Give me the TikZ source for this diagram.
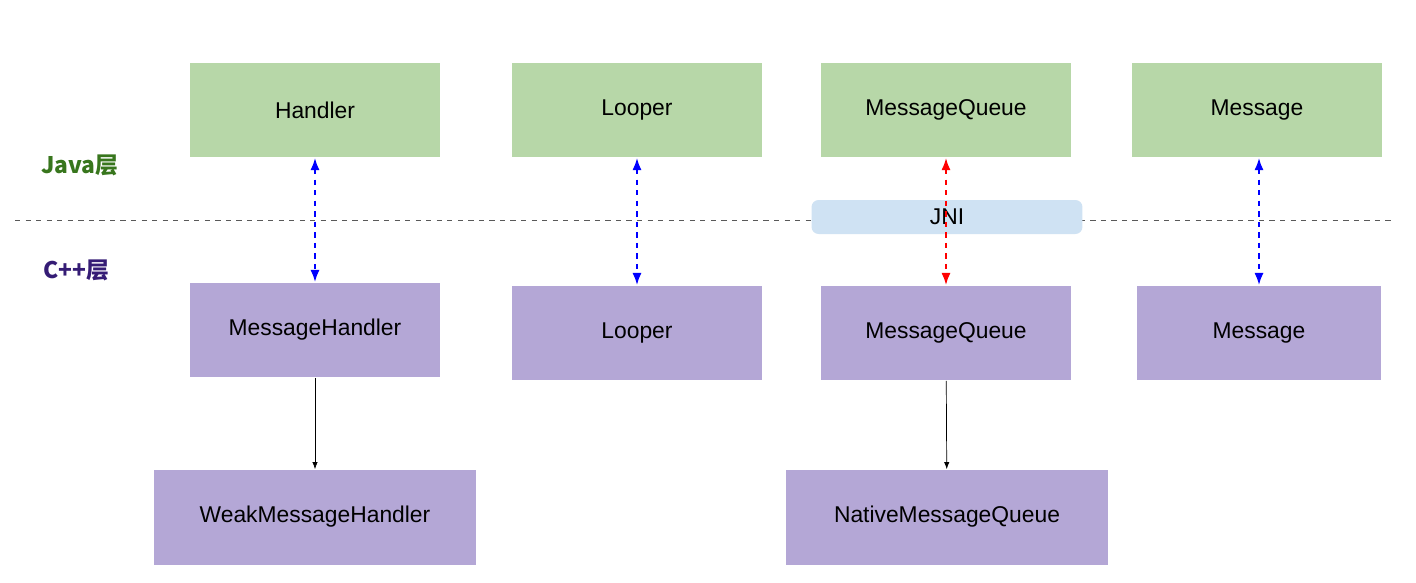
\documentclass[tikz,border=0pt]{standalone}
\usepackage{fontspec}
\setmainfont{Liberation Sans}
\newfontfamily\cjk{Noto Sans CJK SC}
\usetikzlibrary{arrows.meta}
\definecolor{javagreen}{HTML}{B7D7A8}
\definecolor{cppurple}{HTML}{B4A7D6}
\definecolor{jniblue}{HTML}{CFE2F3}
\definecolor{labgreen}{HTML}{38761D}
\definecolor{labpurple}{HTML}{351C75}

\begin{document}
\begin{tikzpicture}[x=0.02cm, y=-0.02cm,
    box/.style = {draw=none, inner sep=0pt, font=\fontsize{13}{15}\selectfont},
    jbox/.style = {box, fill=javagreen, minimum width=5cm, minimum height=1.9cm},
    cbox/.style = {box, fill=cppurple, minimum width=5cm, minimum height=1.9cm},
    wbox/.style = {cbox, minimum width=6.46cm},
    link/.style = {{Latex[length=7pt]}-{Latex[length=7pt]}, dashed, line width=1.2pt, blue},
    owns/.style = {-{Latex[length=4pt]}, thin, black}]

            \useasboundingbox (0,0) rectangle (1416,582);

            % Java layer
            \node [jbox] (jhandler) at (315,110) {Handler};
            \node [jbox] (jlooper) at (637,110) {Looper};
            \node [jbox] (jqueue) at (946,110) {MessageQueue};
            \node [jbox] (jmessage) at (1257,110) {Message};

            % separator and JNI
            \draw [dashed, gray!70!black] (15,220) -- (1395,220);
            \node [box, fill=jniblue, rounded corners=4pt, minimum width=5.42cm, minimum height=0.68cm] (jni) at (947,217) {JNI};
            \node [font=\cjk\bfseries\fontsize{13}{15}\selectfont, text=labgreen] (javalab) at (80,165) {Java层};
            \node [font=\cjk\bfseries\fontsize{13}{15}\selectfont, text=labpurple] (cpplab) at (76,270) {C++层};

            % C++ layer
            \node [cbox] (chandler) at (315,330) {MessageHandler};
            \node [cbox] (clooper) at (637,333) {Looper};
            \node [cbox] (cqueue) at (946,333) {MessageQueue};
            \node [cbox, minimum width=4.9cm] (cmessage) at (1259,333) {Message};
            \node [wbox] (weak) at (315,517) {WeakMessageHandler};
            \node [wbox] (native) at (947,517) {NativeMessageQueue};

            \draw [link] (jhandler) -- (chandler);
            \draw [link] (jlooper) -- (clooper);
            \draw [link, red] (jqueue) -- (cqueue);
            \draw [link] (jmessage.south -| cmessage.north) -- (cmessage);
            \draw [owns] (chandler) -- (weak);
            \draw [owns] (cqueue) -- (native);
            \end{tikzpicture}
\end{document}
